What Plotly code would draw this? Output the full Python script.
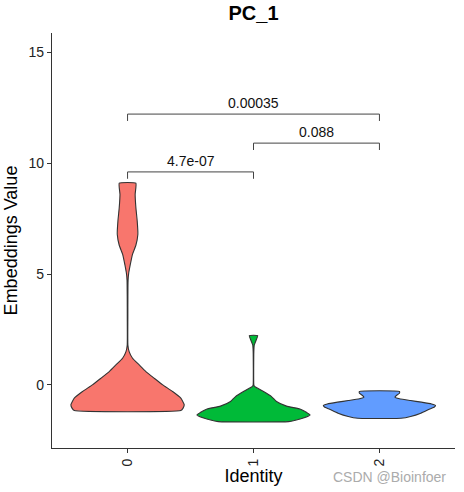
import plotly.graph_objects as go

# clusters and their colours (ggplot hue palette)
clusters = ["0", "1", "2"]
colors = ["#F8766D", "#00BA38", "#619CFF"]

# violin outlines: y level and relative half-width (0..1)
c0_y = [9.10, 8.6, 8.0, 7.4, 6.8, 6.3, 5.9, 5.4, 5.0, 4.7, 4.0, 3.0, 1.8,
        1.5, 1.2, 0.9, 0.6, 0.3, 0.0, -0.3, -0.6, -0.9, -1.05, -1.16]
c0_w = [0.147, 0.134, 0.147, 0.17, 0.182, 0.147, 0.088, 0.046, 0.018, 0.009,
        0.006, 0.005, 0.006, 0.028, 0.088, 0.205, 0.323, 0.47, 0.62, 0.795,
        0.94, 1.0, 0.98, 0.94]

c1_y = [2.22, 2.0, 1.8, 1.5, 0.0, -0.07, -0.3, -0.53, -0.75, -0.96, -1.1,
        -1.25, -1.36, -1.5, -1.6, -1.66]
c1_w = [0.074, 0.044, 0.014, 0.006, 0.006, 0.018, 0.177, 0.318, 0.406, 0.583,
        0.83, 0.94, 1.0, 0.88, 0.74, 0.62]

c2_y = [-0.30, -0.38, -0.48, -0.55, -0.63, -0.71, -0.78, -0.86, -0.93, -1.0,
        -1.1, -1.28, -1.43, -1.51]
c2_w = [0.353, 0.353, 0.30, 0.274, 0.353, 0.548, 0.74, 0.92, 0.99, 0.97,
        0.88, 0.73, 0.55, 0.38]

violin_y = [c0_y, c1_y, c2_y]
violin_w = [c0_w, c1_w, c2_w]

# pairwise comparisons (stat_compare_means)
comp_group1 = [0, 1, 0]
comp_group2 = [1, 2, 2]
comp_y = [9.61, 10.91, 12.22]
comp_labels = ["4.7e-07", "0.088", "0.00035"]
tip = 0.31

y_ticks = [0, 5, 10, 15]

HALF = 0.45
FONT = "Liberation Sans, Arial, sans-serif"

fig = go.Figure()

for i, (ys, ws) in enumerate(zip(violin_y, violin_w)):
    xs_right = [i + HALF * w for w in ws]
    xs_left = [i - HALF * w for w in reversed(ws)]
    fig.add_trace(go.Scatter(
        x=xs_right + xs_left + [xs_right[0]],
        y=ys + list(reversed(ys)) + [ys[0]],
        mode="lines",
        fill="toself",
        fillcolor=colors[i],
        line=dict(color="#333333", width=1.1, shape="spline", smoothing=0.4),
        hoverinfo="skip",
        showlegend=False,
    ))

for g1, g2, yv, lab in zip(comp_group1, comp_group2, comp_y, comp_labels):
    fig.add_trace(go.Scatter(
        x=[g1, g1, g2, g2],
        y=[yv - tip, yv, yv, yv - tip],
        mode="lines",
        line=dict(color="#444444", width=1),
        hoverinfo="skip",
        showlegend=False,
    ))
    fig.add_annotation(
        x=(g1 + g2) / 2, y=yv, text=lab, showarrow=False,
        yanchor="bottom", yshift=1,
        font=dict(family=FONT, size=14, color="#111111"),
    )

fig.add_annotation(
    xref="paper", yref="paper", x=0.983, y=-0.07,
    xanchor="right", yanchor="middle", showarrow=False,
    text="CSDN @Bioinfoer",
    font=dict(family=FONT, size=14, color="#ababab"),
)

fig.update_layout(
    width=464, height=492,
    margin=dict(l=52, r=9, t=33, b=44),
    plot_bgcolor="white", paper_bgcolor="white",
    font=dict(family=FONT, color="#000000"),
    title=dict(
        text="<b>PC_1</b>", x=0.5, xref="paper", y=0.973, yanchor="middle",
        font=dict(family=FONT, size=20, color="#000000"),
    ),
    xaxis=dict(
        range=[-0.6, 2.6], tickmode="array",
        tickvals=list(range(len(clusters))), ticktext=clusters,
        tickangle=-90, ticks="outside", ticklen=4, tickcolor="#333333",
        showline=True, linecolor="#333333", linewidth=1.2,
        showgrid=False, zeroline=False, automargin=False,
        tickfont=dict(family=FONT, size=14, color="#222222"),
        title=dict(text="Identity", standoff=2,
                   font=dict(family=FONT, size=18, color="#000000")),
    ),
    yaxis=dict(
        range=[-2.85, 15.88], tickmode="array", tickvals=y_ticks,
        ticks="outside", ticklen=4, tickcolor="#333333",
        showline=True, linecolor="#333333", linewidth=1.2,
        showgrid=False, zeroline=False, automargin=False,
        tickfont=dict(family=FONT, size=14, color="#222222"),
        title=dict(text="Embeddings Value", standoff=6,
                   font=dict(family=FONT, size=18, color="#000000")),
    ),
)

# drop the page's default body margin so the figure fills the window
fig.write_html(
    "out.html",
    config={"displayModeBar": False},
    post_script="document.body.style.margin = '0';",
)
